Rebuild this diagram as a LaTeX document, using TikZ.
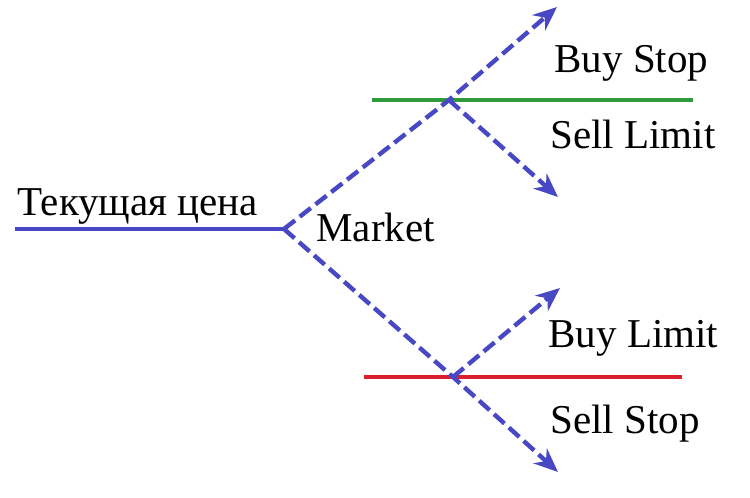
\documentclass[tikz,border=0pt]{standalone}
\usepackage{fontspec}
\setmainfont{Liberation Serif}
\usetikzlibrary{arrows.meta}
\definecolor{pblue}{HTML}{4848C4}
\definecolor{pgreen}{HTML}{2E9A3C}
\definecolor{pred}{HTML}{DC1F2E}
\tikzset{
  lbl/.style={anchor=base west, inner sep=0pt, font=\fontsize{20.5}{24}\selectfont, text=black},
  move/.style={draw=pblue, line width=2.2pt, dash pattern=on 7pt off 3pt, -{Stealth[length=12pt,width=10pt]}},
  price/.style={draw=pblue, line width=2.2pt},
  level/.style={line width=2.2pt}
}
\begin{document}
\begin{tikzpicture}[x=0.5pt,y=-0.5pt]
\fill[white] (0,0) rectangle (750,498);
\useasboundingbox (0,0) rectangle (750,498);
% coordinates
\coordinate (start) at (15,229);
\coordinate (fork) at (284,229);
\coordinate (j1) at (449,100);
\coordinate (j2) at (453,377);
\coordinate (t1) at (557,7);
\coordinate (t2) at (558,197);
\coordinate (t3) at (560,288);
\coordinate (t4) at (558,472);
\coordinate (g1) at (372,100);
\coordinate (g2) at (693,100);
\coordinate (r1) at (364,377);
\coordinate (r2) at (682,377);
% levels
\draw[level, pgreen] (g1) -- (g2);
\draw[level, pred] (r1) -- (r2);
% price
\draw[price] (start) -- (fork);
% moves
\draw[move] (fork) -- (j1) -- (t1);
\draw[move] (j1) -- (t2);
\draw[move] (fork) -- (j2) -- (t4);
\draw[move] (j2) -- (t3);
% labels
\node[lbl] (cur) at (17,215) {Текущая цена};
\node[lbl] (mkt) at (316,241) {Market};
\node[lbl] (bs) at (554,72) {Buy Stop};
\node[lbl] (sl) at (550,148) {Sell Limit};
\node[lbl] (bl) at (548,347) {Buy Limit};
\node[lbl] (ss) at (550,433) {Sell Stop};
\end{tikzpicture}
\end{document}
